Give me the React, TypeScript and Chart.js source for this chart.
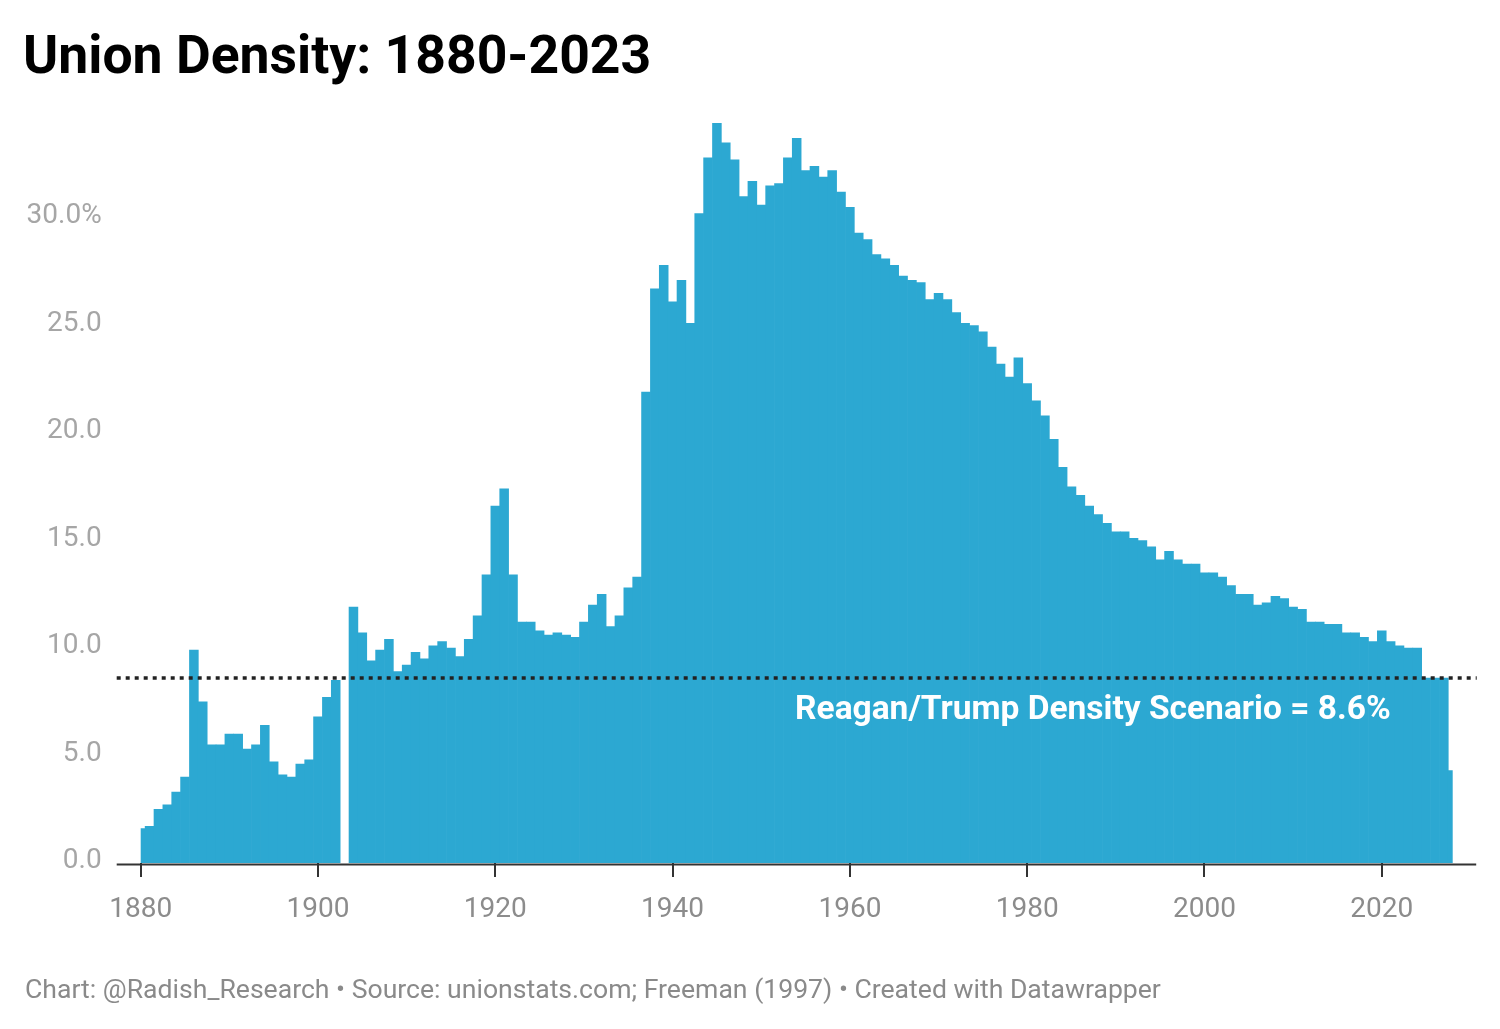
import React, { useEffect, useRef } from "react";
import { Chart, registerables } from "chart.js";

Chart.register(...registerables);

const TITLE = "Union Density: 1880-2023";
const FOOTER =
  "Chart: @Radish_Research • Source: unionstats.com; Freeman (1997) • Created with Datawrapper";
const ANNOTATION = "Reagan/Trump Density Scenario = 8.6%";
const SCENARIO_VALUE = 8.6;

const START_YEAR = 1880;

// Union density (% of workers), one value per year from 1880
const DENSITY_1880S = [1.6, 1.7, 2.5, 2.7, 3.3, 4.0, 9.9, 7.5, 5.5, 5.5];
const DENSITY_1890S = [6.0, 6.0, 5.3, 5.5, 6.4, 4.7, 4.1, 4.0, 4.6, 4.8];
const DENSITY_1900S = [6.8, 7.7, 8.5, null, 11.9, 10.7, 9.4, 9.9, 10.4, 8.9];
const DENSITY_1910S = [9.2, 9.8, 9.5, 10.1, 10.3, 10.0, 9.6, 10.4, 11.5, 13.4];
const DENSITY_1920S = [16.6, 17.4, 13.4, 11.2, 11.2, 10.8, 10.6, 10.7, 10.6, 10.5];
const DENSITY_1930S = [11.2, 12.0, 12.5, 11.0, 11.5, 12.8, 13.3, 21.9, 26.7, 27.8];
const DENSITY_1940S = [26.1, 27.1, 25.1, 30.2, 32.8, 34.4, 33.5, 32.7, 31.0, 31.7];
const DENSITY_1950S = [30.6, 31.5, 31.6, 32.8, 33.7, 32.2, 32.4, 31.9, 32.2, 31.2];
const DENSITY_1960S = [30.5, 29.3, 29.0, 28.3, 28.1, 27.8, 27.3, 27.1, 27.0, 26.2];
const DENSITY_1970S = [26.5, 26.2, 25.6, 25.1, 25.0, 24.7, 24.0, 23.2, 22.6, 23.5];
const DENSITY_1980S = [22.3, 21.5, 20.8, 19.7, 18.4, 17.5, 17.1, 16.6, 16.2, 15.8];
const DENSITY_1990S = [15.4, 15.4, 15.1, 15.0, 14.7, 14.1, 14.5, 14.1, 13.9, 13.9];
const DENSITY_2000S = [13.5, 13.5, 13.3, 12.9, 12.5, 12.5, 12.0, 12.1, 12.4, 12.3];
const DENSITY_2010S = [11.9, 11.8, 11.2, 11.2, 11.1, 11.1, 10.7, 10.7, 10.5, 10.3];
const DENSITY_2020S = [10.8, 10.3, 10.1, 10.0, 10.0, 8.6, 8.6, 8.6, 4.3];

const DENSITY: (number | null)[] = [
  ...DENSITY_1880S,
  ...DENSITY_1890S,
  ...DENSITY_1900S,
  ...DENSITY_1910S,
  ...DENSITY_1920S,
  ...DENSITY_1930S,
  ...DENSITY_1940S,
  ...DENSITY_1950S,
  ...DENSITY_1960S,
  ...DENSITY_1970S,
  ...DENSITY_1980S,
  ...DENSITY_1990S,
  ...DENSITY_2000S,
  ...DENSITY_2010S,
  ...DENSITY_2020S,
];
const YEARS = DENSITY.map((_, i) => START_YEAR + i);

const X_TICKS = [1880, 1900, 1920, 1940, 1960, 1980, 2000, 2020];
const Y_TICKS = [0, 5, 10, 15, 20, 25, 30];
const X_MIN = 1880;
const X_MAX = 2028;
const Y_MAX = 35;

const BAR_COLOR = "#2ca8d2";
const FONT = "Roboto, 'Noto Sans', sans-serif";

export default function App() {
  const canvasRef = useRef<HTMLCanvasElement>(null);

  useEffect(() => {
    const canvas = canvasRef.current;
    if (!canvas) return;

    const overlay = {
      id: "overlay",
      afterDatasetsDraw(chart: any) {
        const { ctx, chartArea, scales } = chart;
        const yS = scales.y;
        const xS = scales.x;
        ctx.save();
        // axis baseline (extends beyond the plot like the original)
        const base = yS.getPixelForValue(0) + 1.5;
        ctx.strokeStyle = "#333";
        ctx.lineWidth = 2;
        ctx.beginPath();
        ctx.moveTo(chartArea.left - 24, base);
        ctx.lineTo(chartArea.right + 23.5, base);
        ctx.stroke();
        // dotted scenario line
        const yy = Math.round(yS.getPixelForValue(SCENARIO_VALUE));
        ctx.setLineDash([4, 5]);
        ctx.lineWidth = 3.5;
        ctx.strokeStyle = "#222";
        ctx.beginPath();
        ctx.moveTo(chartArea.left - 24, yy);
        ctx.lineTo(chartArea.right + 24, yy);
        ctx.stroke();
        ctx.setLineDash([]);
        // annotation
        ctx.fillStyle = "#ffffff";
        ctx.font = `bold 33.5px ${FONT}`;
        ctx.textAlign = "right";
        ctx.textBaseline = "alphabetic";
        ctx.fillText(ANNOTATION, xS.getPixelForValue(2021), yy + 41);
        ctx.restore();
      },
    };

    const chart = new Chart(canvas, {
      type: "bar",
      data: {
        datasets: [
          {
            data: YEARS.map((x, i) => ({ x, y: DENSITY[i] })) as any,
            backgroundColor: BAR_COLOR,
            borderWidth: 0,
            barPercentage: 1,
            categoryPercentage: 1,
            clip: 0 as any,
          },
        ],
      },
      options: {
        responsive: false,
        animation: false,
        events: [],
        layout: {
          padding: { left: 0, right: 47.3, top: 110.5, bottom: 66 },
        },
        plugins: {
          legend: { display: false },
          tooltip: { enabled: false },
          title: { display: false },
        },
        scales: {
          x: {
            type: "linear",
            min: X_MIN,
            max: X_MAX,
            offset: false,
            afterBuildTicks: (s: any) => {
              s.ticks = X_TICKS.map((v) => ({ value: v }));
            },
            afterFit: (s: any) => {
              s.height = 100;
            },
            grid: {
              display: true,
              drawOnChartArea: false,
              drawTicks: true,
              tickLength: 14,
              color: "#333",
              lineWidth: 2,
              offset: false,
            },
            border: { display: false },
            ticks: {
              font: { family: FONT, size: 28 },
              color: "#8c8c8c",
              padding: 16,
              maxRotation: 0,
              autoSkip: false,
              callback: (v: any) => String(v),
            },
          },
          y: {
            type: "linear",
            min: 0,
            max: Y_MAX,
            afterBuildTicks: (s: any) => {
              s.ticks = Y_TICKS.map((v) => ({ value: v }));
            },
            afterFit: (s: any) => {
              s.width = 140.7;
            },
            grid: { display: false, drawTicks: false },
            border: { display: false },
            ticks: {
              font: { family: FONT, size: 28 },
              color: "#a6a6a6",
              padding: 39,
              labelOffset: -2,
              callback: (v: any) =>
                v === 30 ? "30.0%" : Number(v).toFixed(1),
            },
          },
        },
      },
      plugins: [overlay],
    });

    return () => chart.destroy();
  }, []);

  return (
    <div
      style={{
        position: "absolute",
        left: 0,
        top: 0,
        width: 1500,
        height: 1029,
        background: "#fff",
        overflow: "hidden",
      }}
    >
      <canvas
        ref={canvasRef}
        width={1500}
        height={1029}
        style={{ position: "absolute", left: 0, top: 0, width: 1500, height: 1029 }}
      />
      <div
        style={{
          position: "absolute",
          left: 23,
          top: 28,
          fontFamily: FONT,
          fontWeight: 700,
          fontSize: 53.5,
          lineHeight: 1,
          color: "#000",
          whiteSpace: "nowrap",
        }}
      >
        {TITLE}
      </div>
      <div
        style={{
          position: "absolute",
          left: 25,
          top: 976,
          fontFamily: FONT,
          fontSize: 26.6,
          lineHeight: 1,
          color: "#8a8a8a",
          whiteSpace: "nowrap",
        }}
      >
        {FOOTER}
      </div>
    </div>
  );
}
